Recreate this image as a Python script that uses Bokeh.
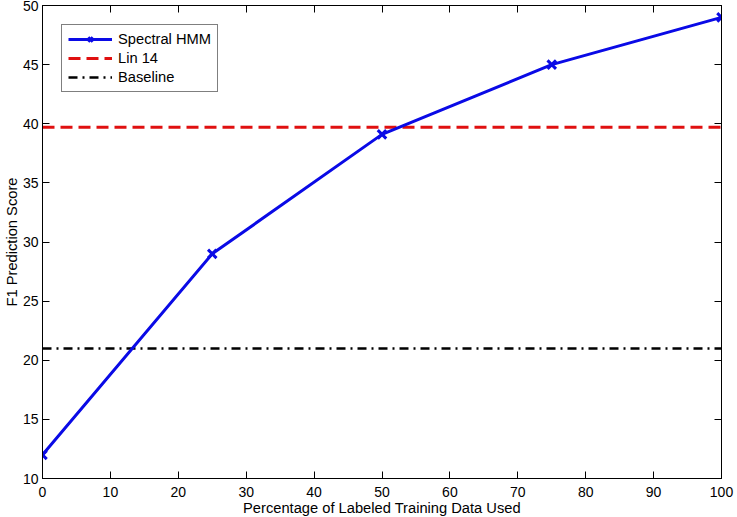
from bokeh.plotting import figure
from bokeh.models import LinearAxis, CustomJSTickFormatter, FixedTicker, Range1d
from bokeh.embed import file_html
from bokeh.resources import INLINE

# ---- data ----
pct_labeled = [0, 25, 50, 75, 100]
spectral_hmm = [12.0, 29.0, 39.1, 45.0, 49.0]
lin14_score = 39.7
baseline_score = 21.0
x_ticks = [0, 10, 20, 30, 40, 50, 60, 70, 80, 90, 100]
y_ticks = [10, 15, 20, 25, 30, 35, 40, 45, 50]
x_label = "Percentage of Labeled Training Data Used"
y_label = "F1 Prediction Score"

FONT = "Liberation Sans"

p = figure(frame_width=679, frame_height=473,
           output_backend="svg", toolbar_location=None,
           x_range=Range1d(0, 100), y_range=Range1d(10, 50),
           min_border_left=42, min_border_top=5, min_border_right=16, min_border_bottom=36,
           x_axis_label=x_label, y_axis_label=y_label)
p.styles = {"position": "absolute", "left": "0px", "top": "0px"}
p.background_fill_color = "white"
p.border_fill_color = "white"
p.outline_line_color = "black"
p.outline_line_width = 1
p.xgrid.visible = False
p.ygrid.visible = False

def style_axis(ax, ticks, labels=True):
    ax.ticker = FixedTicker(ticks=ticks)
    ax.major_tick_in = 7
    ax.major_tick_out = 0
    ax.minor_tick_line_color = None
    ax.axis_line_color = "black"
    ax.major_tick_line_color = "black"
    ax.major_label_text_font = FONT
    ax.major_label_text_font_size = "14px"
    ax.major_label_text_color = "black"
    ax.axis_label_text_font = FONT
    ax.axis_label_text_font_size = "14.7px"
    ax.axis_label_text_font_style = "normal"
    ax.axis_label_text_color = "black"
    if not labels:
        ax.formatter = CustomJSTickFormatter(code="return ''")
        ax.major_label_standoff = 0

style_axis(p.xaxis[0], x_ticks)
style_axis(p.yaxis[0], y_ticks)
p.xaxis[0].major_label_standoff = 8
p.xaxis[0].axis_label_standoff = 0
p.yaxis[0].major_label_standoff = 4
p.yaxis[0].axis_label_standoff = 0

top = LinearAxis()
style_axis(top, x_ticks, labels=False)
p.add_layout(top, "above")
right = LinearAxis()
style_axis(right, y_ticks, labels=False)
p.add_layout(right, "right")

BLUE = "#0a0ae6"
RED = "#e01010"

x_span = [pct_labeled[0], pct_labeled[-1]]
p.line(x_span, [lin14_score, lin14_score], line_color=RED, line_width=3,
       line_dash="12 6", legend_label="Lin 14")
p.line(x_span, [baseline_score, baseline_score], line_color="black", line_width=2.5,
       line_dash="9 5 2 5", legend_label="Baseline")
p.line(pct_labeled, spectral_hmm, line_color=BLUE, line_width=3, legend_label="Spectral HMM")
p.scatter(pct_labeled, spectral_hmm, marker="x", size=12, line_color=BLUE, line_width=3,
          legend_label="Spectral HMM")

lg = p.legend[0]
items = {it.label["value"]: it for it in lg.items}
lg.items = [items["Spectral HMM"], items["Lin 14"], items["Baseline"]]
lg.location = "top_left"
lg.margin = 19
lg.padding = 6
lg.spacing = 3
lg.label_standoff = 6
lg.glyph_width = 44
lg.glyph_height = 16
lg.label_height = 16
lg.label_text_font = FONT
lg.label_text_font_size = "14.7px"
lg.label_text_color = "black"
lg.border_line_color = "black"
lg.border_line_width = 1
lg.background_fill_color = "white"
lg.background_fill_alpha = 1

open("out.html", "w").write(file_html(p, INLINE))
